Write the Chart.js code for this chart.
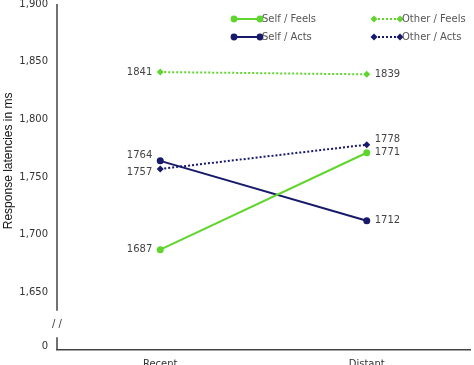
<!DOCTYPE html>
<html>
<head>
<meta charset="utf-8">
<script src="https://cdn.jsdelivr.net/npm/chart.js@4/dist/chart.umd.min.js"></script>
<style>
  body { margin: 0; background: #fff; }
  #wrap { width: 474px; height: 365px; }
</style>
</head>
<body>
<div id="wrap"><canvas id="latencyChart" width="474" height="365"></canvas></div>
<script>
// categorías y valores
const categories = ['Recent', 'Distant'];
const selfFeels = [1687, 1771];
const selfActs = [1764, 1712];
const otherFeels = [1841, 1839];
const otherActs = [1757, 1778];

// marcas del eje y (la primera representa el 0 tras el corte)
const yTickValues = [1603, 1650, 1700, 1750, 1800, 1850, 1900];
const yTickLabels = ['0', '1,650', '1,700', '1,750', '1,800', '1,850', '1,900'];

const GREEN = '#5fd52d';
const NAVY = '#161a68';
const TICK_FONT = { family: 'DejaVu Sans', size: 10 };

// desplazamientos verticales de las etiquetas para evitar solapes
const labelShift = [[0, 0], [-5, 0], [0, 0], [3, -5]];

// Plugin: eje y cortado, título, etiquetas de valores y leyenda
const decorations = {
    id: 'decorations',
    afterDraw(chart) {
        const ctx = chart.ctx;
        const y = chart.scales.y;
        const area = chart.chartArea;

        // eje y con corte
        ctx.save();
        ctx.strokeStyle = '#444';
        ctx.lineWidth = 1.5;
        ctx.beginPath();
        ctx.moveTo(area.left, y.getPixelForValue(1900));
        ctx.lineTo(area.left, y.getPixelForValue(1634));
        ctx.moveTo(area.left, y.getPixelForValue(1611));
        ctx.lineTo(area.left, area.bottom);
        ctx.stroke();
        ctx.fillStyle = '#333';
        ctx.font = '10px DejaVu Sans';
        ctx.textAlign = 'center';
        ctx.textBaseline = 'middle';
        ctx.fillText('/ /', area.left, y.getPixelForValue(1622));

        // título del eje y
        ctx.save();
        ctx.translate(9, y.getPixelForValue(1764));
        ctx.rotate(-Math.PI / 2);
        ctx.fillStyle = '#111';
        ctx.font = '12px Liberation Sans';
        ctx.fillText('Response latencies in ms', 0, 0);
        ctx.restore();

        // etiquetas de datos
        ctx.fillStyle = '#444';
        chart.data.datasets.forEach((ds, i) => {
            const meta = chart.getDatasetMeta(i);
            meta.data.forEach((pt, j) => {
                const dy = labelShift[i][j];
                if (j === 0) {
                    ctx.textAlign = 'right';
                    ctx.fillText(ds.data[j], pt.x - 8, pt.y + dy);
                } else {
                    ctx.textAlign = 'left';
                    ctx.fillText(ds.data[j], pt.x + 8, pt.y + dy);
                }
            });
        });

        // leyenda en dos columnas
        const cols = [234, 374];
        const rows = [19, 37];
        chart.data.datasets.forEach((ds, i) => {
            const lx = cols[Math.floor(i / 2)];
            const ly = rows[i % 2];
            ctx.strokeStyle = ds.borderColor;
            ctx.lineWidth = 2;
            ctx.setLineDash(ds.borderDash || []);
            ctx.beginPath();
            ctx.moveTo(lx, ly);
            ctx.lineTo(lx + 26, ly);
            ctx.stroke();
            ctx.setLineDash([]);
            ctx.fillStyle = ds.borderColor;
            [lx, lx + 26].forEach(px => {
                ctx.beginPath();
                if (ds.pointStyle === 'rectRot') {
                    ctx.moveTo(px, ly - 3.5);
                    ctx.lineTo(px + 3.5, ly);
                    ctx.lineTo(px, ly + 3.5);
                    ctx.lineTo(px - 3.5, ly);
                    ctx.closePath();
                } else {
                    ctx.arc(px, ly, 3.4, 0, Math.PI * 2);
                }
                ctx.fill();
            });
            ctx.fillStyle = '#555';
            ctx.textAlign = 'left';
            ctx.fillText(ds.label, lx + 28, ly);
        });
        ctx.restore();
    }
};

function createLatencyChart() {
    const ctx = document.getElementById('latencyChart').getContext('2d');
    new Chart(ctx, {
        type: 'line',
        data: {
            labels: categories,
            datasets: [{
                label: 'Self / Feels',
                data: selfFeels,
                borderColor: GREEN,
                backgroundColor: GREEN,
                pointStyle: 'circle'
            }, {
                label: 'Self / Acts',
                data: selfActs,
                borderColor: NAVY,
                backgroundColor: NAVY,
                pointStyle: 'circle'
            }, {
                label: 'Other / Feels',
                data: otherFeels,
                borderColor: GREEN,
                backgroundColor: GREEN,
                borderDash: [2, 2],
                pointStyle: 'rectRot'
            }, {
                label: 'Other / Acts',
                data: otherActs,
                borderColor: NAVY,
                backgroundColor: NAVY,
                borderDash: [2, 2],
                pointStyle: 'rectRot'
            }]
        },
        options: {
            responsive: false,
            animation: false,
            layout: { padding: { top: 4, right: 0, left: 0, bottom: 0 } },
            elements: {
                line: { borderWidth: 2, tension: 0 },
                point: { radius: 3.5, borderWidth: 0 }
            },
            plugins: {
                legend: { display: false },
                tooltip: { enabled: false }
            },
            scales: {
                x: {
                    offset: true,
                    grid: { display: false, drawTicks: false },
                    border: { color: '#444', width: 1.5 },
                    ticks: { color: '#333', font: TICK_FONT, padding: 8 },
                    afterFit(scale) { scale.height = 15; }
                },
                y: {
                    min: 1600,
                    max: 1900,
                    grid: { display: false, drawTicks: false },
                    border: { display: false },
                    afterBuildTicks(scale) {
                        scale.ticks = yTickValues.map(v => ({ value: v }));
                    },
                    afterFit(scale) {
                        scale.width = 57;
                        scale.paddingTop = 0;
                        scale.paddingBottom = 0;
                    },
                    ticks: {
                        color: '#333',
                        font: TICK_FONT,
                        padding: 9,
                        callback(value) {
                            const idx = yTickValues.indexOf(value);
                            return idx >= 0 ? yTickLabels[idx] : '';
                        }
                    }
                }
            }
        },
        plugins: [decorations]
    });
}

document.addEventListener('DOMContentLoaded', createLatencyChart);
</script>
</body>
</html>
